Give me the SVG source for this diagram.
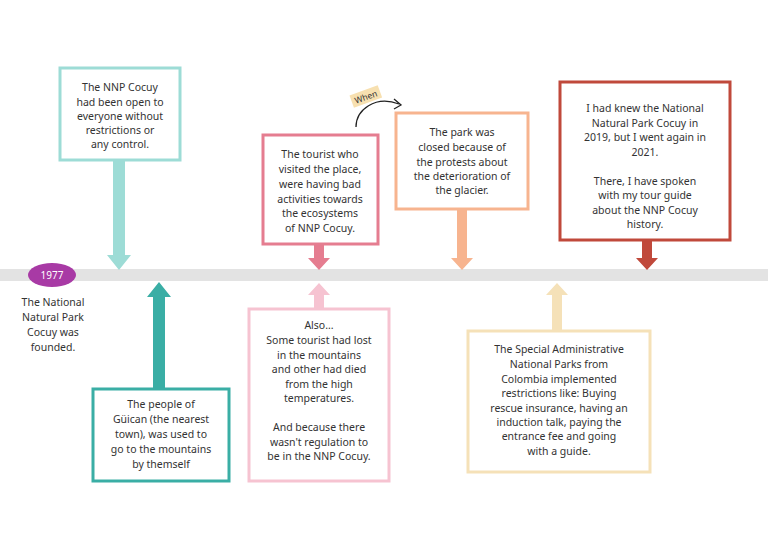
<svg xmlns="http://www.w3.org/2000/svg" width="768" height="559" viewBox="0 0 768 559">
<style>
text{font-family:"Noto Sans","Liberation Sans",sans-serif;font-size:10.5px;fill:#333;text-anchor:middle}
.box{fill:#fff;stroke-width:3}
</style>
<rect width="768" height="559" fill="#fff"/>
<rect x="0" y="269" width="768" height="12" fill="#e3e3e3"/>
<g id="connectors">
<path d="M113 160V255H107L119 270L131 255H125V160Z" fill="#9ddcd6"/>
<path d="M153 389V297H147L159 282L171 297H165V389Z" fill="#3aaea5"/>
<path d="M314 244V258H308L319 270L330 258H324V244Z" fill="#e57d90"/>
<path d="M314 309V295H308L319 283L330 295H324V309Z" fill="#f6c3d1"/>
<path d="M457 209V258H451L462 270L473 258H467V209Z" fill="#f7b48f"/>
<path d="M552 331V295H546L557 283L568 295H562V331Z" fill="#f5e1b8"/>
<path d="M642 240V258H636L647 270L658 258H652V240Z" fill="#c0493b"/>
<path d="M356 127C356 110 375 95 399 104" fill="none" stroke="#222" stroke-width="1.3"/>
<path d="M394 99L401 105L394 109" fill="none" stroke="#222" stroke-width="1.3"/>
</g>
<g id="when" transform="rotate(-20 366 97)">
<rect x="351" y="90" width="30" height="13" fill="#f7e0b0"/>
<text x="366" y="100" style="font-size:8.5px">When</text>
</g>
<g id="n1977">
<ellipse cx="52" cy="275" rx="24" ry="12" fill="#a83aa5"/>
<text x="52" y="279" style="fill:#fff;font-size:10px">1977</text>
<text x="53" y="306">The National</text>
<text x="53" y="321">Natural Park</text>
<text x="53" y="336">Cocuy was</text>
<text x="53" y="351">founded.</text>
</g>
<g id="n1">
<rect class="box" x="60" y="68" width="120" height="92" stroke="#9ddcd6"/>
<text x="120" y="91">The NNP Cocuy</text>
<text x="120" y="106">had been open to</text>
<text x="120" y="120">everyone without</text>
<text x="120" y="134">restrictions or</text>
<text x="120" y="148">any control.</text>
</g>
<g id="n2">
<rect class="box" x="93" y="389" width="136" height="92" stroke="#3aaea5"/>
<text x="161" y="408">The people of</text>
<text x="161" y="423">Güican (the nearest</text>
<text x="161" y="438">town), was used to</text>
<text x="161" y="453">go to the mountains</text>
<text x="161" y="468">by themself</text>
</g>
<g id="n3">
<rect class="box" x="263" y="135" width="115" height="109" stroke="#e57d90"/>
<text x="320" y="158">The tourist who</text>
<text x="320" y="173">visited the place,</text>
<text x="320" y="188">were having bad</text>
<text x="320" y="203">activities towards</text>
<text x="320" y="217">the ecosystems</text>
<text x="320" y="232">of NNP Cocuy.</text>
</g>
<g id="n4">
<rect class="box" x="249" y="309" width="140" height="172" stroke="#f6c3d1"/>
<text x="319" y="329">Also...</text>
<text x="319" y="344">Some tourist had lost</text>
<text x="319" y="359">in the mountains</text>
<text x="319" y="373">and other had died</text>
<text x="319" y="388">from the high</text>
<text x="319" y="402">temperatures.</text>
<text x="319" y="431">And because there</text>
<text x="319" y="446">wasn't regulation to</text>
<text x="319" y="460">be in the NNP Cocuy.</text>
</g>
<g id="n5">
<rect class="box" x="396" y="113" width="132" height="96" stroke="#f7b48f"/>
<text x="462" y="136">The park was</text>
<text x="462" y="151">closed because of</text>
<text x="462" y="166">the protests about</text>
<text x="462" y="180">the deterioration of</text>
<text x="462" y="194">the glacier.</text>
</g>
<g id="n6">
<rect class="box" x="468" y="331" width="182" height="141" stroke="#f5e1b8"/>
<text x="559" y="353">The Special Administrative</text>
<text x="559" y="368">National Parks from</text>
<text x="559" y="383">Colombia implemented</text>
<text x="559" y="397">restrictions like: Buying</text>
<text x="559" y="412">rescue insurance, having an</text>
<text x="559" y="426">induction talk, paying the</text>
<text x="559" y="440">entrance fee and going</text>
<text x="559" y="455">with a guide.</text>
</g>
<g id="n7">
<rect class="box" x="560" y="82" width="170" height="158" stroke="#c0493b" stroke-width="4"/>
<text x="645" y="112">I had knew the National</text>
<text x="645" y="127">Natural Park Cocuy in</text>
<text x="645" y="141">2019, but I went again in</text>
<text x="645" y="156">2021.</text>
<text x="645" y="185">There, I have spoken</text>
<text x="645" y="199">with my tour guide</text>
<text x="645" y="214">about the NNP Cocuy</text>
<text x="645" y="228">history.</text>
</g>
</svg>
